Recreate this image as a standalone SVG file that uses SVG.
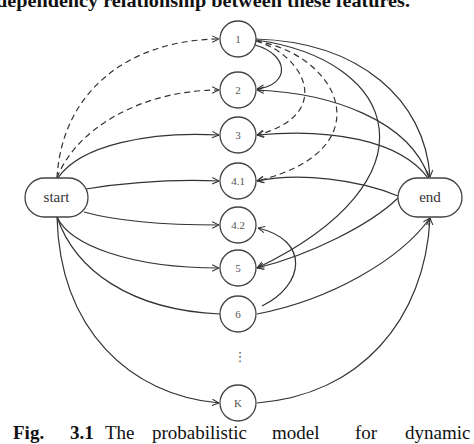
<svg xmlns="http://www.w3.org/2000/svg" width="474" height="444" viewBox="0 0 474 444">
<defs>
<marker id="arr" viewBox="0 0 10 10" refX="9.5" refY="5" markerWidth="8" markerHeight="8" orient="auto" markerUnits="userSpaceOnUse">
<path d="M1,1 L9.5,5 L1,9" fill="none" stroke="#333" stroke-width="1.3"/>
</marker>
</defs>
<style>
.e{fill:none;stroke:#333;stroke-width:1.2}
.d{stroke-dasharray:6 4}
.n{fill:#fff;stroke:#444;stroke-width:1.3}
.lbl{font-family:"Liberation Serif",serif;font-size:11px;fill:#555;text-anchor:middle}
.big{font-family:"Liberation Serif",serif;font-size:15px;fill:#333;text-anchor:middle}
.cap{font-family:"Liberation Serif",serif;font-size:19px;fill:#111}
</style>
<rect width="474" height="444" fill="#fff"/>
<text class="cap" x="-4" y="7" font-weight="bold" textLength="414" lengthAdjust="spacingAndGlyphs">dependency relationship between these features.</text>
<g id="connectors">
<path class="e d" d="M57,178 C62,90 130,40 219,39" marker-end="url(#arr)"/>
<path class="e d" d="M57,178 C75,130 140,90 219,90" marker-end="url(#arr)"/>
<path class="e" d="M58,178 C80,145 150,131 219,135" marker-end="url(#arr)"/>
<path class="e" d="M86,189 C130,182 170,179 219,181" marker-end="url(#arr)"/>
<path class="e" d="M84,212 C120,222 170,225 219,225" marker-end="url(#arr)"/>
<path class="e" d="M57,217 C70,245 130,268 219,268" marker-end="url(#arr)"/>
<path class="e" d="M57,217 C75,270 130,310 220,314"/>
<path class="e" d="M57,217 C60,330 130,395 219,403" marker-end="url(#arr)"/>
<path class="e" d="M256,39 C360,42 425,100 430,177" marker-end="url(#arr)"/>
<path class="e" d="M256,40 C400,60 440,180 257,268" marker-end="url(#arr)"/>
<path class="e" d="M255,45 C290,55 290,85 257,89" marker-end="url(#arr)"/>
<path class="e d" d="M256,41 C305,55 335,115 257,135" marker-end="url(#arr)"/>
<path class="e d" d="M256,41 C340,55 385,150 257,181" marker-end="url(#arr)"/>
<path class="e" d="M429,178 C410,120 330,93 257,90" marker-end="url(#arr)"/>
<path class="e" d="M428,178 C400,140 330,128 257,135" marker-end="url(#arr)"/>
<path class="e" d="M398,196 C360,180 300,172 257,181" marker-end="url(#arr)"/>
<path class="e" d="M398,198 C370,225 310,255 257,268" marker-end="url(#arr)"/>
<path class="e" d="M262,306 C305,285 310,240 258,228" marker-end="url(#arr)"/>
<path class="e" d="M257,314 C330,300 400,260 430,218" marker-end="url(#arr)"/>
<path class="e" d="M257,403 C360,395 425,320 430,218" marker-end="url(#arr)"/>
</g>
<g id="start"><rect class="n" x="25" y="178" width="63" height="39" rx="19.5"/><text class="big" x="56.5" y="202">start</text></g>
<g id="end"><rect class="n" x="398" y="178" width="64" height="39" rx="19.5"/><text class="big" x="430" y="202">end</text></g>
<g id="n1"><circle class="n" cx="238" cy="39" r="18"/><text class="lbl" x="238" y="43">1</text></g>
<g id="n2"><circle class="n" cx="238" cy="90" r="18"/><text class="lbl" x="238" y="94">2</text></g>
<g id="n3"><circle class="n" cx="238" cy="135" r="18"/><text class="lbl" x="238" y="139">3</text></g>
<g id="n41"><circle class="n" cx="238" cy="181" r="18"/><text class="lbl" x="238" y="185">4.1</text></g>
<g id="n42"><circle class="n" cx="238" cy="225" r="18"/><text class="lbl" x="238" y="229">4.2</text></g>
<g id="n5"><circle class="n" cx="238" cy="268" r="18"/><text class="lbl" x="238" y="272">5</text></g>
<g id="n6"><circle class="n" cx="238" cy="314" r="18"/><text class="lbl" x="238" y="318">6</text></g>
<g id="dots"><text x="240" y="361" font-family="DejaVu Sans,sans-serif" font-size="13" fill="#555" text-anchor="middle">⋮</text></g>
<g id="nK"><circle class="n" cx="238" cy="403" r="18"/><text class="lbl" x="238" y="407">K</text></g>
<g id="caption" class="cap">
<text x="13" y="439" font-weight="bold">Fig.</text>
<text x="70" y="439" font-weight="bold">3.1</text>
<text x="105" y="439">The</text>
<text x="152" y="439">probabilistic</text>
<text x="272" y="439">model</text>
<text x="355" y="439">for</text>
<text x="405" y="439">dynamic</text>
</g>
</svg>
